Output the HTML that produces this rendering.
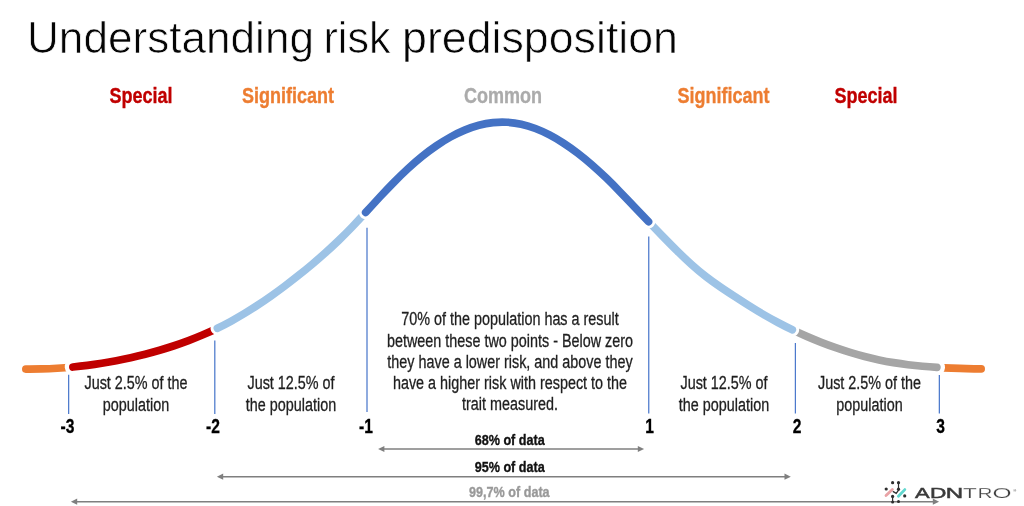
<!DOCTYPE html>
<html lang="en">
<head>
<meta charset="utf-8">
<title>Understanding risk predisposition</title>
<style>
html,body{margin:0;padding:0;background:#fff;}
body{width:1024px;height:506px;overflow:hidden;position:relative;}
svg{will-change:transform;position:absolute;left:0;top:0;display:block;}
text{font-family:"Liberation Sans",sans-serif;}
.n{font-family:"Liberation Sans",sans-serif;}
.b{font-weight:bold;}
</style>
</head>
<body>
<svg width="1024" height="506" viewBox="0 0 1024 506">
<rect width="1024" height="506" fill="#fff"/>

<!-- title -->
<g font-size="43.7" fill="#050505" stroke="#fff" stroke-width="0.7" style="font-family:'Liberation Sans',sans-serif">
<text x="27" y="53" textLength="287" lengthAdjust="spacingAndGlyphs">Understanding</text>
<text x="323.5" y="53" textLength="67" lengthAdjust="spacingAndGlyphs">risk</text>
<text x="402" y="53" textLength="276" lengthAdjust="spacingAndGlyphs">predisposition</text>
</g>

<!-- curve -->
<g fill="none" stroke-linecap="round">
<path d="M25.85 369.10 C31.08 369.14 36.31 369.09 41.53 368.95 C46.76 368.81 51.99 368.57 57.22 368.25 C62.44 367.93 67.67 367.51 72.90 367.01" stroke="#fff" stroke-width="13.70"/>
<path d="M25.85 369.10 C31.08 369.14 36.31 369.09 41.53 368.95 C46.76 368.81 51.99 368.57 57.22 368.25 C62.44 367.93 67.67 367.51 72.90 367.01" stroke="#ED7D31" stroke-width="7.70"/>
<path d="M936.90 367.33 C941.82 367.64 946.73 367.88 951.65 368.09 C956.57 368.29 961.48 368.45 966.40 368.59 C971.32 368.72 976.23 368.83 981.15 368.92" stroke="#fff" stroke-width="13.70"/>
<path d="M936.90 367.33 C941.82 367.64 946.73 367.88 951.65 368.09 C956.57 368.29 961.48 368.45 966.40 368.59 C971.32 368.72 976.23 368.83 981.15 368.92" stroke="#ED7D31" stroke-width="7.70"/>
<path d="M72.90 367.01 C77.72 366.54 82.53 366.00 87.35 365.37 C92.17 364.75 96.98 364.05 101.80 363.28 C106.62 362.50 111.43 361.65 116.25 360.71 C121.07 359.78 125.88 358.77 130.70 357.69 C135.52 356.60 140.33 355.43 145.15 354.19 C149.97 352.95 154.78 351.63 159.60 350.23 C164.42 348.83 169.23 347.33 174.05 345.74 C178.87 344.15 183.68 342.45 188.50 340.64 C193.32 338.82 198.13 336.89 202.95 334.83 C207.77 332.76 212.58 330.57 217.40 328.22" stroke="#fff" stroke-width="16.30"/>
<path d="M72.90 367.01 C77.72 366.54 82.53 366.00 87.35 365.37 C92.17 364.75 96.98 364.05 101.80 363.28 C106.62 362.50 111.43 361.65 116.25 360.71 C121.07 359.78 125.88 358.77 130.70 357.69 C135.52 356.60 140.33 355.43 145.15 354.19 C149.97 352.95 154.78 351.63 159.60 350.23 C164.42 348.83 169.23 347.33 174.05 345.74 C178.87 344.15 183.68 342.45 188.50 340.64 C193.32 338.82 198.13 336.89 202.95 334.83 C207.77 332.76 212.58 330.57 217.40 328.22" stroke="#C00000" stroke-width="7.70"/>
<path d="M792.30 329.78 C797.12 332.09 801.94 334.28 806.76 336.36 C811.58 338.44 816.40 340.42 821.22 342.30 C826.04 344.18 830.86 345.96 835.68 347.65 C840.50 349.33 845.32 350.92 850.14 352.39 C854.96 353.87 859.78 355.24 864.60 356.49 C869.42 357.75 874.24 358.89 879.06 359.91 C883.88 360.93 888.70 361.83 893.52 362.62 C898.34 363.41 903.16 364.10 907.98 364.70 C912.80 365.29 917.62 365.80 922.44 366.23 C927.26 366.67 932.08 367.03 936.90 367.33" stroke="#fff" stroke-width="16.30"/>
<path d="M792.30 329.78 C797.12 332.09 801.94 334.28 806.76 336.36 C811.58 338.44 816.40 340.42 821.22 342.30 C826.04 344.18 830.86 345.96 835.68 347.65 C840.50 349.33 845.32 350.92 850.14 352.39 C854.96 353.87 859.78 355.24 864.60 356.49 C869.42 357.75 874.24 358.89 879.06 359.91 C883.88 360.93 888.70 361.83 893.52 362.62 C898.34 363.41 903.16 364.10 907.98 364.70 C912.80 365.29 917.62 365.80 922.44 366.23 C927.26 366.67 932.08 367.03 936.90 367.33" stroke="#A5A5A5" stroke-width="7.70"/>
<path d="M217.40 328.22 C221.89 326.04 226.39 323.72 230.88 321.27 C235.38 318.81 239.87 316.23 244.36 313.52 C248.86 310.81 253.35 307.98 257.85 305.03 C262.34 302.09 266.83 299.02 271.33 295.85 C275.82 292.68 280.32 289.40 284.81 286.02 C289.30 282.64 293.80 279.16 298.29 275.59 C302.78 272.01 307.28 268.35 311.77 264.58 C316.27 260.80 320.76 256.91 325.25 252.89 C329.75 248.86 334.24 244.69 338.74 240.36 C343.23 236.02 347.72 231.52 352.22 226.84 C356.71 222.15 361.21 217.30 365.70 212.40" stroke="#fff" stroke-width="13.70"/>
<path d="M217.40 328.22 C221.89 326.04 226.39 323.72 230.88 321.27 C235.38 318.81 239.87 316.23 244.36 313.52 C248.86 310.81 253.35 307.98 257.85 305.03 C262.34 302.09 266.83 299.02 271.33 295.85 C275.82 292.68 280.32 289.40 284.81 286.02 C289.30 282.64 293.80 279.16 298.29 275.59 C302.78 272.01 307.28 268.35 311.77 264.58 C316.27 260.80 320.76 256.91 325.25 252.89 C329.75 248.86 334.24 244.69 338.74 240.36 C343.23 236.02 347.72 231.52 352.22 226.84 C356.71 222.15 361.21 217.30 365.70 212.40" stroke="#9DC3E6" stroke-width="7.70"/>
<path d="M648.50 221.68 C653.29 226.63 658.09 231.55 662.88 236.45 C667.67 241.35 672.47 246.24 677.26 250.97 C682.05 255.71 686.85 260.30 691.64 264.61 C696.43 268.92 701.23 272.92 706.02 276.63 C710.81 280.33 715.61 283.75 720.40 287.04 C725.19 290.32 729.99 293.46 734.78 296.57 C739.57 299.69 744.37 302.79 749.16 305.80 C753.95 308.81 758.75 311.74 763.54 314.53 C768.33 317.32 773.13 319.98 777.92 322.52 C782.71 325.06 787.51 327.48 792.30 329.78" stroke="#fff" stroke-width="13.70"/>
<path d="M648.50 221.68 C653.29 226.63 658.09 231.55 662.88 236.45 C667.67 241.35 672.47 246.24 677.26 250.97 C682.05 255.71 686.85 260.30 691.64 264.61 C696.43 268.92 701.23 272.92 706.02 276.63 C710.81 280.33 715.61 283.75 720.40 287.04 C725.19 290.32 729.99 293.46 734.78 296.57 C739.57 299.69 744.37 302.79 749.16 305.80 C753.95 308.81 758.75 311.74 763.54 314.53 C768.33 317.32 773.13 319.98 777.92 322.52 C782.71 325.06 787.51 327.48 792.30 329.78" stroke="#9DC3E6" stroke-width="7.70"/>
<path d="M365.70 212.40 C370.41 207.27 375.13 202.09 379.84 197.01 C384.55 191.92 389.27 186.95 393.98 182.18 C398.69 177.40 403.41 172.81 408.12 168.47 C412.83 164.13 417.55 160.03 422.26 156.24 C426.97 152.44 431.69 148.94 436.40 145.73 C441.11 142.52 445.83 139.61 450.54 137.00 C455.25 134.40 459.97 132.10 464.68 130.14 C469.39 128.18 474.11 126.55 478.82 125.28 C483.53 124.02 488.25 123.11 492.96 122.59 C497.67 122.07 502.39 121.94 507.10 122.22 C511.81 122.50 516.53 123.18 521.24 124.24 C525.95 125.30 530.67 126.74 535.38 128.52 C540.09 130.31 544.81 132.44 549.52 134.90 C554.23 137.35 558.95 140.12 563.66 143.19 C568.37 146.25 573.09 149.60 577.80 153.22 C582.51 156.84 587.23 160.72 591.94 164.83 C596.65 168.95 601.37 173.29 606.08 177.84 C610.79 182.39 615.51 187.15 620.22 192.05 C624.93 196.96 629.65 201.98 634.36 206.94 C639.07 211.90 643.79 216.80 648.50 221.68" stroke="#fff" stroke-width="13.70"/>
<path d="M365.70 212.40 C370.41 207.27 375.13 202.09 379.84 197.01 C384.55 191.92 389.27 186.95 393.98 182.18 C398.69 177.40 403.41 172.81 408.12 168.47 C412.83 164.13 417.55 160.03 422.26 156.24 C426.97 152.44 431.69 148.94 436.40 145.73 C441.11 142.52 445.83 139.61 450.54 137.00 C455.25 134.40 459.97 132.10 464.68 130.14 C469.39 128.18 474.11 126.55 478.82 125.28 C483.53 124.02 488.25 123.11 492.96 122.59 C497.67 122.07 502.39 121.94 507.10 122.22 C511.81 122.50 516.53 123.18 521.24 124.24 C525.95 125.30 530.67 126.74 535.38 128.52 C540.09 130.31 544.81 132.44 549.52 134.90 C554.23 137.35 558.95 140.12 563.66 143.19 C568.37 146.25 573.09 149.60 577.80 153.22 C582.51 156.84 587.23 160.72 591.94 164.83 C596.65 168.95 601.37 173.29 606.08 177.84 C610.79 182.39 615.51 187.15 620.22 192.05 C624.93 196.96 629.65 201.98 634.36 206.94 C639.07 211.90 643.79 216.80 648.50 221.68" stroke="#4472C4" stroke-width="7.70"/>
</g>

<!-- vertical lines -->
<g stroke="#4C79CC" stroke-width="1.25">
<line x1="68.65" y1="374.8" x2="68.65" y2="414"/>
<line x1="214.8" y1="340.6" x2="214.8" y2="414"/>
<line x1="367" y1="227.8" x2="367" y2="412"/>
<line x1="648.75" y1="236.5" x2="648.75" y2="413.5"/>
<line x1="795.4" y1="343" x2="795.4" y2="413.5"/>
<line x1="939.35" y1="375" x2="939.35" y2="413.6"/>
</g>

<!-- arrows -->
<g stroke="#7F7F7F" stroke-width="1.5" fill="#7F7F7F">
<line x1="383.9" y1="449" x2="638.3" y2="449"/>
<path d="M378.1 449 L384.40000000000003 445.9 L384.40000000000003 452.1 Z" stroke="none"/>
<path d="M644.1 449 L637.8000000000001 445.9 L637.8000000000001 452.1 Z" stroke="none"/>
<line x1="222.7" y1="476.7" x2="785.0" y2="476.7"/>
<path d="M216.9 476.7 L223.20000000000002 473.59999999999997 L223.20000000000002 479.8 Z" stroke="none"/>
<path d="M790.8 476.7 L784.5 473.59999999999997 L784.5 479.8 Z" stroke="none"/>
<line x1="76.7" y1="501.7" x2="933.3" y2="501.7"/>
<path d="M70.9 501.7 L77.2 498.59999999999997 L77.2 504.8 Z" stroke="none"/>
<path d="M939.1 501.7 L932.8000000000001 498.59999999999997 L932.8000000000001 504.8 Z" stroke="none"/>
</g>

<!-- headings -->
<g font-size="22" class="b" text-anchor="middle">
<text transform="translate(141 102.7) scale(0.82 1)" fill="#C00000" stroke="#C00000" stroke-width="0.35">Special</text>
<text transform="translate(288 102.7) scale(0.82 1)" fill="#ED7D31" stroke="#ED7D31" stroke-width="0.35">Significant</text>
<text transform="translate(503 102.7) scale(0.82 1)" fill="#ABABAB" stroke="#ABABAB" stroke-width="0.35">Common</text>
<text transform="translate(723.5 102.7) scale(0.82 1)" fill="#ED7D31" stroke="#ED7D31" stroke-width="0.35">Significant</text>
<text transform="translate(866 102.7) scale(0.82 1)" fill="#C00000" stroke="#C00000" stroke-width="0.35">Special</text>
</g>

<!-- body text -->
<g font-size="17.55" fill="#1f1f1f" stroke="#1f1f1f" stroke-width="0.3" text-anchor="middle">
<text transform="translate(136 389.2) scale(0.82 1)">Just 2.5% of the</text>
<text transform="translate(136 410.5) scale(0.82 1)">population</text>
<text transform="translate(291 389.2) scale(0.82 1)">Just 12.5% of</text>
<text transform="translate(291 410.5) scale(0.82 1)">the population</text>
<text transform="translate(510 325.3) scale(0.82 1)">70% of the population has a result</text>
<text transform="translate(510 346.5) scale(0.82 1)">between these two points - Below zero</text>
<text transform="translate(510 367.7) scale(0.82 1)">they have a lower risk, and above they</text>
<text transform="translate(510 388.9) scale(0.82 1)">have a higher risk with respect to the</text>
<text transform="translate(510 410.1) scale(0.82 1)">trait measured.</text>
<text transform="translate(724 389.2) scale(0.82 1)">Just 12.5% of</text>
<text transform="translate(724 410.5) scale(0.82 1)">the population</text>
<text transform="translate(869.5 389.2) scale(0.82 1)">Just 2.5% of the</text>
<text transform="translate(869.5 410.5) scale(0.82 1)">population</text>
</g>

<!-- axis numbers -->
<g font-size="20" class="b" fill="#000" stroke="#000" stroke-width="0.3" text-anchor="middle">
<text transform="translate(67.5 433) scale(0.78 1)">-3</text>
<text transform="translate(213 433) scale(0.78 1)">-2</text>
<text transform="translate(366 433) scale(0.78 1)">-1</text>
<text transform="translate(649.5 433) scale(0.78 1)">1</text>
<text transform="translate(797 433) scale(0.78 1)">2</text>
<text transform="translate(940.5 433) scale(0.78 1)">3</text>
</g>

<!-- data labels -->
<g font-size="15.4" class="b" text-anchor="middle">
<text transform="translate(509.7 445) scale(0.82 1)" fill="#111" stroke="#111" stroke-width="0.35">68% of data</text>
<text transform="translate(509.7 471.6) scale(0.82 1)" fill="#111" stroke="#111" stroke-width="0.35">95% of data</text>
<text transform="translate(509.3 497.3) scale(0.82 1)" fill="#999" stroke="#999" stroke-width="0.35">99,7% of data</text>
</g>

<!-- logo -->
<g>
<g stroke-linecap="round" fill="none">
<line x1="886" y1="495.6" x2="892.4" y2="489.4" stroke="#E9A3A6" stroke-width="2.8"/>
<line x1="898.4" y1="496.3" x2="904.8" y2="489.6" stroke="#62D8CF" stroke-width="2.8"/>
<path d="M893.3 491.6 L896.2 493.4 L898.6 490.2" stroke="#333" stroke-width="1.3"/>
<line x1="898.5" y1="482.8" x2="898.5" y2="489" stroke="#333" stroke-width="1.2"/>
<line x1="892.6" y1="496.5" x2="892.6" y2="502" stroke="#333" stroke-width="1.2"/>
</g>
<g fill="#2e2e2e">
<circle cx="886.2" cy="489" r="1.6"/>
<circle cx="892.6" cy="482.7" r="1.6"/>
<circle cx="898.5" cy="482.7" r="1.6"/>
<circle cx="898.5" cy="489.2" r="1.6"/>
<circle cx="904.7" cy="495.9" r="1.6"/>
<circle cx="892.6" cy="496.4" r="1.6"/>
<circle cx="892.6" cy="502" r="1.5"/>
<circle cx="898.5" cy="501.4" r="1.5"/>
</g>
<g font-size="14.9" fill="#3a3a3a">
<text y="497.9"><tspan x="914.9" textLength="14.6" lengthAdjust="spacingAndGlyphs" stroke="#3a3a3a" stroke-width="0.5">A</tspan><tspan x="930" textLength="16.35" lengthAdjust="spacingAndGlyphs" stroke="#3a3a3a" stroke-width="0.5">D</tspan><tspan x="945.7" textLength="17.4" lengthAdjust="spacingAndGlyphs" stroke="#3a3a3a" stroke-width="0.5">N</tspan><tspan x="963" textLength="13.8" lengthAdjust="spacingAndGlyphs" stroke="#fff" stroke-width="0.25">T</tspan><tspan x="977.6" textLength="15" lengthAdjust="spacingAndGlyphs" stroke="#fff" stroke-width="0.25">R</tspan><tspan x="992.6" textLength="19" lengthAdjust="spacingAndGlyphs" stroke="#fff" stroke-width="0.25">O</tspan><tspan x="1013.2" dy="-6.4" font-size="4">®</tspan></text>
</g>
</g>
</svg>
</body>
</html>
